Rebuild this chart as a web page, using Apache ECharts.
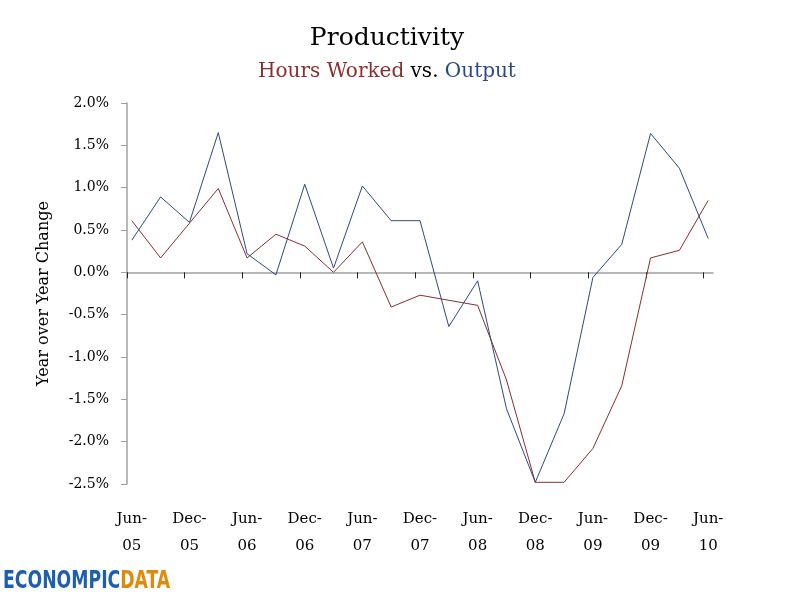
<!DOCTYPE html>
<html>
<head>
<meta charset="utf-8">
<script src="https://cdn.jsdelivr.net/npm/echarts@6/dist/echarts.min.js"></script>
<style>html,body{margin:0;padding:0;background:#fff}#c{width:800px;height:600px}</style>
</head>
<body>
<div id="c"></div>
<script>
// Quarterly observations, Jun-05 .. Jun-10
var quarters = ['Jun-05','Sep-05','Dec-05','Mar-06','Jun-06','Sep-06','Dec-06','Mar-07','Jun-07','Sep-07','Dec-07','Mar-08','Jun-08','Sep-08','Dec-08','Mar-09','Jun-09','Sep-09','Dec-09','Mar-10','Jun-10'];
var hoursWorked = [0.61,0.17,0.58,0.99,0.17,0.45,0.31,0.00,0.36,-0.41,-0.27,-0.33,-0.39,-1.27,-2.48,-2.48,-2.08,-1.34,0.17,0.26,0.85];
var output = [0.38,0.89,0.59,1.65,0.22,-0.03,1.04,0.05,1.02,0.61,0.61,-0.64,-0.10,-1.61,-2.48,-1.67,-0.06,0.33,1.64,1.23,0.40];
var tickLabels = ['Jun-\n05','Dec-\n05','Jun-\n06','Dec-\n06','Jun-\n07','Dec-\n07','Jun-\n08','Dec-\n08','Jun-\n09','Dec-\n09','Jun-\n10'];

// x scale in months since Jun-05; observations sit mid-month
function monthOf(i){ return 0.5 + 3*i; }
var hoursData = hoursWorked.map(function(v,i){ return [monthOf(i), v]; });
var outputData = output.map(function(v,i){ return [monthOf(i), v]; });
var tickMonths = tickLabels.map(function(t,k){ return 6*k; });

var serif = '"DejaVu Serif","Liberation Serif",serif';
var chart = echarts.init(document.getElementById('c'));
chart.setOption({
  animation: false,
  backgroundColor: '#fff',
  grid: {left: 127, right: 87, top: 103, bottom: 116, containLabel: false},
  graphic: [
    {type:'text', x: 387, y: 38, style:{text:'Productivity', font:'25px ' + serif, fill:'#000', align:'center', verticalAlign:'middle'}},
    {type:'text', x: 387, y: 72, style:{
      text:'{r|Hours Worked}{k| vs. }{b|Output}',
      align:'center', verticalAlign:'middle',
      rich:{
        r:{fill:'#8B2E2E', font:'20px ' + serif},
        k:{fill:'#000', font:'20px ' + serif},
        b:{fill:'#2E4A80', font:'20px ' + serif}
      }
    }},
    {type:'text', x: 3, y: 570, scaleX: 0.8, style:{
      text:'{e|ECONOMPIC}{d|DATA}',
      rich:{
        e:{fill:'#1d5fae', font:'bold 24px "DejaVu Sans Condensed","DejaVu Sans",sans-serif'},
        d:{fill:'#e08a0c', font:'bold 24px "DejaVu Sans Condensed","DejaVu Sans",sans-serif'}
      }
    }}
  ],
  xAxis: [
    {
      type:'value', min: 0, max: 61, interval: 6,
      axisLine:{show:true, onZero:true, lineStyle:{color:'#a0a0a0', width:1.5}},
      axisTick:{show:true, length:6, customValues: tickMonths, lineStyle:{color:'#222'}},
      axisLabel:{show:false},
      splitLine:{show:false}
    },
    {
      type:'value', min: -0.5, max: 60.5, position:'bottom',
      axisLine:{show:false, onZero:false},
      axisTick:{show:false},
      splitLine:{show:false},
      axisLabel:{
        show:true, margin: 22, color:'#000', lineHeight: 27,
        fontFamily: serif, fontSize: 15,
        customValues: tickMonths,
        formatter:function(v){ var k = Math.round(v/6); return tickLabels[k] || ''; }
      }
    }
  ],
  yAxis: {
    type:'value', min:-2.5, max:2.0, interval:0.5,
    name:'Year over Year Change', nameLocation:'middle', nameGap: 75, nameRotate: 90,
    nameTextStyle:{color:'#000', fontFamily: serif, fontSize: 16},
    axisLine:{show:true, lineStyle:{color:'#a0a0a0', width:1.5}},
    axisTick:{show:true, length:6, lineStyle:{color:'#a0a0a0'}},
    axisLabel:{color:'#000', fontFamily: serif, fontSize: 14, margin: 18,
      formatter:function(v){ return v.toFixed(1) + '%'; }},
    splitLine:{show:false}
  },
  series: [
    {name:'Hours Worked', type:'line', xAxisIndex:0, data: hoursData, showSymbol:false, symbol:'none',
     lineStyle:{color:'#8B2E2E', width:1}, clip:false},
    {name:'Output', type:'line', xAxisIndex:0, data: outputData, showSymbol:false, symbol:'none',
     lineStyle:{color:'#2E4A80', width:1}, clip:false}
  ]
});
</script>
</body>
</html>
